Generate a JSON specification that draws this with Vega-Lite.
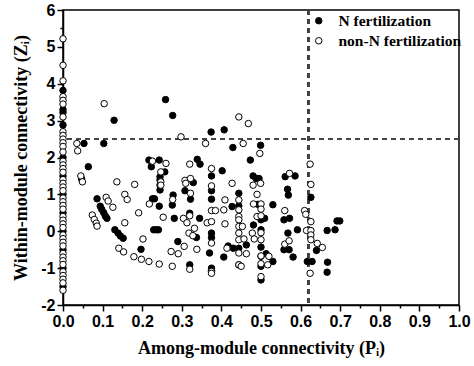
{
  "$schema": "https://vega.github.io/schema/vega-lite/v6.json",
  "width": 396,
  "height": 295,
  "autosize": "none",
  "padding": {"left": 63, "top": 10, "right": 15, "bottom": 61},
  "background": "white",
  "config": {
    "view": {"stroke": "black", "strokeWidth": 1.5},
    "axis": {
      "domainColor": "black", "domainWidth": 1.5, "tickColor": "black", "tickWidth": 1.5,
      "grid": false, "labelFont": "Liberation Sans", "labelFontWeight": "bold", "labelFontSize": 16,
      "labelColor": "black", "titleFont": "Liberation Serif", "titleFontWeight": "bold",
      "titleFontSize": 18, "titleColor": "black", "labelOverlap": false, "labelPadding": 2
    }
  },
  "data": {"values": [
    {"P":0,"Z":3.82,"g":"N fertilization"},{"P":0,"Z":3.3,"g":"N fertilization"},{"P":0,"Z":3.22,"g":"N fertilization"},{"P":0,"Z":2.88,"g":"N fertilization"},{"P":0,"Z":2.0,"g":"N fertilization"},{"P":0,"Z":1.5,"g":"N fertilization"},{"P":0,"Z":1.0,"g":"N fertilization"},{"P":0,"Z":0.5,"g":"N fertilization"},{"P":0,"Z":0.0,"g":"N fertilization"},{"P":0,"Z":-0.5,"g":"N fertilization"},{"P":0,"Z":-1.0,"g":"N fertilization"},{"P":0,"Z":-1.5,"g":"N fertilization"},
    {"P":0.053,"Z":2.38,"g":"N fertilization"},{"P":0.064,"Z":1.75,"g":"N fertilization"},{"P":0.047,"Z":1.42,"g":"N fertilization"},{"P":0.086,"Z":0.88,"g":"N fertilization"},{"P":0.103,"Z":2.38,"g":"N fertilization"},{"P":0.129,"Z":3.01,"g":"N fertilization"},
    {"P":0.094,"Z":0.68,"g":"N fertilization"},{"P":0.098,"Z":0.59,"g":"N fertilization"},{"P":0.103,"Z":0.5,"g":"N fertilization"},{"P":0.107,"Z":0.41,"g":"N fertilization"},{"P":0.111,"Z":0.35,"g":"N fertilization"},
    {"P":0.131,"Z":0.04,"g":"N fertilization"},{"P":0.139,"Z":-0.05,"g":"N fertilization"},{"P":0.145,"Z":-0.13,"g":"N fertilization"},{"P":0.152,"Z":-0.19,"g":"N fertilization"},
    {"P":0.197,"Z":-0.49,"g":"N fertilization"},{"P":0.217,"Z":1.93,"g":"N fertilization"},{"P":0.223,"Z":1.75,"g":"N fertilization"},{"P":0.226,"Z":0.88,"g":"N fertilization"},{"P":0.231,"Z":0.88,"g":"N fertilization"},
    {"P":0.229,"Z":0.04,"g":"N fertilization"},{"P":0.236,"Z":0.04,"g":"N fertilization"},{"P":0.241,"Z":0.04,"g":"N fertilization"},
    {"P":0.243,"Z":1.93,"g":"N fertilization"},{"P":0.245,"Z":1.48,"g":"N fertilization"},{"P":0.245,"Z":1.39,"g":"N fertilization"},{"P":0.245,"Z":1.25,"g":"N fertilization"},{"P":0.245,"Z":1.12,"g":"N fertilization"},{"P":0.243,"Z":0.68,"g":"N fertilization"},
    {"P":0.259,"Z":3.57,"g":"N fertilization"},{"P":0.257,"Z":1.61,"g":"N fertilization"},{"P":0.277,"Z":3.14,"g":"N fertilization"},{"P":0.278,"Z":0.98,"g":"N fertilization"},{"P":0.276,"Z":0.71,"g":"N fertilization"},{"P":0.281,"Z":0.35,"g":"N fertilization"},{"P":0.29,"Z":-0.28,"g":"N fertilization"},
    {"P":0.308,"Z":1.1,"g":"N fertilization"},{"P":0.32,"Z":-0.91,"g":"N fertilization"},{"P":0.322,"Z":0.87,"g":"N fertilization"},{"P":0.32,"Z":0.49,"g":"N fertilization"},{"P":0.329,"Z":1.32,"g":"N fertilization"},{"P":0.337,"Z":-0.17,"g":"N fertilization"},{"P":0.339,"Z":1.95,"g":"N fertilization"},{"P":0.346,"Z":1.82,"g":"N fertilization"},{"P":0.345,"Z":0.35,"g":"N fertilization"},
    {"P":0.37,"Z":-0.59,"g":"N fertilization"},{"P":0.374,"Z":2.69,"g":"N fertilization"},{"P":0.375,"Z":1.5,"g":"N fertilization"},{"P":0.375,"Z":1.1,"g":"N fertilization"},{"P":0.375,"Z":0.87,"g":"N fertilization"},{"P":0.375,"Z":-0.05,"g":"N fertilization"},{"P":0.375,"Z":-0.17,"g":"N fertilization"},{"P":0.375,"Z":-1.0,"g":"N fertilization"},{"P":0.375,"Z":-1.06,"g":"N fertilization"},
    {"P":0.407,"Z":2.75,"g":"N fertilization"},{"P":0.402,"Z":1.64,"g":"N fertilization"},{"P":0.406,"Z":-0.7,"g":"N fertilization"},{"P":0.417,"Z":-0.4,"g":"N fertilization"},{"P":0.427,"Z":0.67,"g":"N fertilization"},{"P":0.43,"Z":-0.46,"g":"N fertilization"},{"P":0.429,"Z":2.27,"g":"N fertilization"},
    {"P":0.444,"Z":1.03,"g":"N fertilization"},{"P":0.444,"Z":0.69,"g":"N fertilization"},{"P":0.444,"Z":-0.46,"g":"N fertilization"},{"P":0.444,"Z":-0.91,"g":"N fertilization"},
    {"P":0.463,"Z":-0.37,"g":"N fertilization"},{"P":0.473,"Z":1.93,"g":"N fertilization"},{"P":0.48,"Z":1.5,"g":"N fertilization"},{"P":0.488,"Z":1.43,"g":"N fertilization"},{"P":0.481,"Z":0.17,"g":"N fertilization"},{"P":0.492,"Z":0.73,"g":"N fertilization"},{"P":0.495,"Z":1.43,"g":"N fertilization"},{"P":0.499,"Z":2.33,"g":"N fertilization"},
    {"P":0.5,"Z":0.4,"g":"N fertilization"},{"P":0.5,"Z":0.31,"g":"N fertilization"},{"P":0.5,"Z":0.04,"g":"N fertilization"},{"P":0.5,"Z":-0.43,"g":"N fertilization"},{"P":0.5,"Z":-0.68,"g":"N fertilization"},{"P":0.5,"Z":-0.95,"g":"N fertilization"},{"P":0.5,"Z":-1.32,"g":"N fertilization"},
    {"P":0.509,"Z":0.35,"g":"N fertilization"},{"P":0.513,"Z":-0.61,"g":"N fertilization"},{"P":0.53,"Z":0.72,"g":"N fertilization"},{"P":0.53,"Z":-0.82,"g":"N fertilization"},
    {"P":0.558,"Z":-0.5,"g":"N fertilization"},{"P":0.561,"Z":1.48,"g":"N fertilization"},{"P":0.558,"Z":0.31,"g":"N fertilization"},{"P":0.567,"Z":1.14,"g":"N fertilization"},{"P":0.569,"Z":0.98,"g":"N fertilization"},{"P":0.568,"Z":-0.05,"g":"N fertilization"},{"P":0.572,"Z":0.35,"g":"N fertilization"},{"P":0.571,"Z":-0.5,"g":"N fertilization"},{"P":0.581,"Z":-0.7,"g":"N fertilization"},{"P":0.586,"Z":1.5,"g":"N fertilization"},{"P":0.592,"Z":0.04,"g":"N fertilization"},
    {"P":0.617,"Z":-0.82,"g":"N fertilization"},{"P":0.629,"Z":-0.82,"g":"N fertilization"},{"P":0.626,"Z":0.92,"g":"N fertilization"},{"P":0.64,"Z":-0.52,"g":"N fertilization"},{"P":0.667,"Z":0.02,"g":"N fertilization"},{"P":0.668,"Z":-0.84,"g":"N fertilization"},{"P":0.667,"Z":-1.11,"g":"N fertilization"},{"P":0.687,"Z":0.04,"g":"N fertilization"},{"P":0.692,"Z":0.28,"g":"N fertilization"},{"P":0.699,"Z":0.28,"g":"N fertilization"},

    {"P":0,"Z":5.22,"g":"non-N fertilization"},{"P":0,"Z":4.5,"g":"non-N fertilization"},{"P":0,"Z":4.08,"g":"non-N fertilization"},{"P":0,"Z":3.65,"g":"non-N fertilization"},{"P":0,"Z":3.55,"g":"non-N fertilization"},{"P":0,"Z":3.45,"g":"non-N fertilization"},{"P":0,"Z":3.1,"g":"non-N fertilization"},{"P":0,"Z":2.7,"g":"non-N fertilization"},{"P":0,"Z":2.6,"g":"non-N fertilization"},{"P":0,"Z":2.5,"g":"non-N fertilization"},{"P":0,"Z":2.4,"g":"non-N fertilization"},{"P":0,"Z":2.3,"g":"non-N fertilization"},{"P":0,"Z":2.15,"g":"non-N fertilization"},{"P":0,"Z":1.9,"g":"non-N fertilization"},{"P":0,"Z":1.8,"g":"non-N fertilization"},{"P":0,"Z":1.7,"g":"non-N fertilization"},{"P":0,"Z":1.6,"g":"non-N fertilization"},{"P":0,"Z":1.4,"g":"non-N fertilization"},{"P":0,"Z":1.3,"g":"non-N fertilization"},{"P":0,"Z":1.2,"g":"non-N fertilization"},{"P":0,"Z":1.1,"g":"non-N fertilization"},{"P":0,"Z":0.9,"g":"non-N fertilization"},{"P":0,"Z":0.8,"g":"non-N fertilization"},{"P":0,"Z":0.7,"g":"non-N fertilization"},{"P":0,"Z":0.6,"g":"non-N fertilization"},{"P":0,"Z":0.4,"g":"non-N fertilization"},{"P":0,"Z":0.3,"g":"non-N fertilization"},{"P":0,"Z":0.2,"g":"non-N fertilization"},{"P":0,"Z":0.1,"g":"non-N fertilization"},{"P":0,"Z":-0.1,"g":"non-N fertilization"},{"P":0,"Z":-0.2,"g":"non-N fertilization"},{"P":0,"Z":-0.3,"g":"non-N fertilization"},{"P":0,"Z":-0.4,"g":"non-N fertilization"},{"P":0,"Z":-0.6,"g":"non-N fertilization"},{"P":0,"Z":-0.7,"g":"non-N fertilization"},{"P":0,"Z":-0.8,"g":"non-N fertilization"},{"P":0,"Z":-0.9,"g":"non-N fertilization"},{"P":0,"Z":-1.1,"g":"non-N fertilization"},{"P":0,"Z":-1.2,"g":"non-N fertilization"},{"P":0,"Z":-1.3,"g":"non-N fertilization"},{"P":0,"Z":-1.4,"g":"non-N fertilization"},{"P":0,"Z":-1.6,"g":"non-N fertilization"},
    {"P":0.035,"Z":2.38,"g":"non-N fertilization"},{"P":0.037,"Z":2.18,"g":"non-N fertilization"},{"P":0.045,"Z":1.5,"g":"non-N fertilization"},{"P":0.049,"Z":1.34,"g":"non-N fertilization"},
    {"P":0.074,"Z":0.44,"g":"non-N fertilization"},{"P":0.079,"Z":0.32,"g":"non-N fertilization"},{"P":0.084,"Z":0.22,"g":"non-N fertilization"},{"P":0.086,"Z":0.14,"g":"non-N fertilization"},
    {"P":0.104,"Z":3.46,"g":"non-N fertilization"},{"P":0.109,"Z":0.92,"g":"non-N fertilization"},{"P":0.114,"Z":0.82,"g":"non-N fertilization"},{"P":0.126,"Z":0.65,"g":"non-N fertilization"},{"P":0.136,"Z":1.34,"g":"non-N fertilization"},{"P":0.141,"Z":-0.46,"g":"non-N fertilization"},{"P":0.153,"Z":-0.56,"g":"non-N fertilization"},{"P":0.156,"Z":1.0,"g":"non-N fertilization"},{"P":0.162,"Z":0.86,"g":"non-N fertilization"},{"P":0.156,"Z":0.23,"g":"non-N fertilization"},
    {"P":0.181,"Z":1.27,"g":"non-N fertilization"},{"P":0.179,"Z":-0.69,"g":"non-N fertilization"},{"P":0.191,"Z":0.5,"g":"non-N fertilization"},{"P":0.198,"Z":-0.76,"g":"non-N fertilization"},{"P":0.202,"Z":-0.21,"g":"non-N fertilization"},{"P":0.217,"Z":-0.82,"g":"non-N fertilization"},{"P":0.218,"Z":0.74,"g":"non-N fertilization"},{"P":0.226,"Z":1.9,"g":"non-N fertilization"},
    {"P":0.243,"Z":-0.89,"g":"non-N fertilization"},{"P":0.247,"Z":1.34,"g":"non-N fertilization"},{"P":0.247,"Z":1.25,"g":"non-N fertilization"},{"P":0.247,"Z":1.61,"g":"non-N fertilization"},{"P":0.253,"Z":0.38,"g":"non-N fertilization"},{"P":0.26,"Z":1.84,"g":"non-N fertilization"},{"P":0.273,"Z":-0.55,"g":"non-N fertilization"},{"P":0.276,"Z":-0.95,"g":"non-N fertilization"},{"P":0.277,"Z":0.86,"g":"non-N fertilization"},{"P":0.291,"Z":-0.61,"g":"non-N fertilization"},{"P":0.298,"Z":2.56,"g":"non-N fertilization"},
    {"P":0.304,"Z":0.35,"g":"non-N fertilization"},{"P":0.306,"Z":-0.41,"g":"non-N fertilization"},{"P":0.308,"Z":1.38,"g":"non-N fertilization"},{"P":0.31,"Z":1.3,"g":"non-N fertilization"},{"P":0.313,"Z":0.23,"g":"non-N fertilization"},{"P":0.32,"Z":1.82,"g":"non-N fertilization"},{"P":0.322,"Z":1.43,"g":"non-N fertilization"},{"P":0.322,"Z":1.03,"g":"non-N fertilization"},{"P":0.32,"Z":0.42,"g":"non-N fertilization"},{"P":0.318,"Z":-0.05,"g":"non-N fertilization"},{"P":0.32,"Z":-1.03,"g":"non-N fertilization"},{"P":0.328,"Z":-0.12,"g":"non-N fertilization"},{"P":0.332,"Z":0.08,"g":"non-N fertilization"},{"P":0.338,"Z":-0.49,"g":"non-N fertilization"},
    {"P":0.36,"Z":2.38,"g":"non-N fertilization"},{"P":0.364,"Z":0.23,"g":"non-N fertilization"},{"P":0.375,"Z":1.7,"g":"non-N fertilization"},{"P":0.375,"Z":1.23,"g":"non-N fertilization"},{"P":0.375,"Z":0.56,"g":"non-N fertilization"},{"P":0.375,"Z":0.26,"g":"non-N fertilization"},{"P":0.375,"Z":-0.32,"g":"non-N fertilization"},{"P":0.375,"Z":-1.09,"g":"non-N fertilization"},{"P":0.375,"Z":-1.14,"g":"non-N fertilization"},{"P":0.385,"Z":0.56,"g":"non-N fertilization"},
    {"P":0.409,"Z":0.85,"g":"non-N fertilization"},{"P":0.406,"Z":0.58,"g":"non-N fertilization"},{"P":0.409,"Z":0.2,"g":"non-N fertilization"},{"P":0.414,"Z":-0.46,"g":"non-N fertilization"},{"P":0.427,"Z":1.3,"g":"non-N fertilization"},{"P":0.444,"Z":3.1,"g":"non-N fertilization"},
    {"P":0.444,"Z":0.85,"g":"non-N fertilization"},{"P":0.444,"Z":0.58,"g":"non-N fertilization"},{"P":0.444,"Z":0.4,"g":"non-N fertilization"},{"P":0.444,"Z":0.31,"g":"non-N fertilization"},{"P":0.444,"Z":0.13,"g":"non-N fertilization"},{"P":0.444,"Z":-0.05,"g":"non-N fertilization"},{"P":0.444,"Z":-0.23,"g":"non-N fertilization"},{"P":0.444,"Z":-0.59,"g":"non-N fertilization"},{"P":0.444,"Z":-0.91,"g":"non-N fertilization"},
    {"P":0.45,"Z":-0.95,"g":"non-N fertilization"},{"P":0.453,"Z":0.13,"g":"non-N fertilization"},{"P":0.455,"Z":2.38,"g":"non-N fertilization"},{"P":0.457,"Z":-0.21,"g":"non-N fertilization"},{"P":0.463,"Z":-0.61,"g":"non-N fertilization"},{"P":0.468,"Z":2.92,"g":"non-N fertilization"},{"P":0.48,"Z":1.25,"g":"non-N fertilization"},{"P":0.481,"Z":0.74,"g":"non-N fertilization"},{"P":0.478,"Z":-0.05,"g":"non-N fertilization"},{"P":0.483,"Z":-0.21,"g":"non-N fertilization"},{"P":0.49,"Z":1.0,"g":"non-N fertilization"},{"P":0.49,"Z":0.4,"g":"non-N fertilization"},{"P":0.497,"Z":2.11,"g":"non-N fertilization"},{"P":0.499,"Z":1.3,"g":"non-N fertilization"},
    {"P":0.5,"Z":0.74,"g":"non-N fertilization"},{"P":0.5,"Z":0.6,"g":"non-N fertilization"},{"P":0.5,"Z":0.42,"g":"non-N fertilization"},{"P":0.5,"Z":-0.04,"g":"non-N fertilization"},{"P":0.5,"Z":-0.23,"g":"non-N fertilization"},{"P":0.5,"Z":-0.67,"g":"non-N fertilization"},{"P":0.5,"Z":-0.88,"g":"non-N fertilization"},{"P":0.5,"Z":-1.23,"g":"non-N fertilization"},
    {"P":0.517,"Z":-0.91,"g":"non-N fertilization"},{"P":0.52,"Z":-0.68,"g":"non-N fertilization"},{"P":0.56,"Z":0.56,"g":"non-N fertilization"},{"P":0.56,"Z":-0.35,"g":"non-N fertilization"},{"P":0.572,"Z":1.57,"g":"non-N fertilization"},{"P":0.571,"Z":-0.26,"g":"non-N fertilization"},
    {"P":0.61,"Z":0.56,"g":"non-N fertilization"},{"P":0.613,"Z":0.46,"g":"non-N fertilization"},{"P":0.624,"Z":1.82,"g":"non-N fertilization"},{"P":0.626,"Z":1.27,"g":"non-N fertilization"},{"P":0.615,"Z":0.02,"g":"non-N fertilization"},{"P":0.626,"Z":0.02,"g":"non-N fertilization"},{"P":0.626,"Z":0.26,"g":"non-N fertilization"},{"P":0.626,"Z":-0.1,"g":"non-N fertilization"},{"P":0.626,"Z":-0.23,"g":"non-N fertilization"},{"P":0.624,"Z":-1.14,"g":"non-N fertilization"},{"P":0.642,"Z":-0.33,"g":"non-N fertilization"},{"P":0.655,"Z":-0.44,"g":"non-N fertilization"}
  ]},
  "encoding": {
    "x": {"field": "P", "type": "quantitative", "scale": {"domain": [0, 1], "nice": false, "zero": false},
      "axis": {"title": "Among-module connectivity (Pᵢ)",
        "values": [0,0.05,0.1,0.15,0.2,0.25,0.3,0.35,0.4,0.45,0.5,0.55,0.6,0.65,0.7,0.75,0.8,0.85,0.9,0.95,1],
        "labelExpr": "round(datum.value*100) % 10 === 0 ? format(datum.value, '.1f') : ''",
        "tickSize": {"condition": {"test": "round(datum.value*100) % 10 === 0", "value": 6}, "value": 3},
        "labelFlush": false, "titlePadding": 10}},
    "y": {"field": "Z", "type": "quantitative", "scale": {"domain": [-2, 6], "nice": false, "zero": false},
      "axis": {"title": "Within-module connectivity (Zᵢ)",
        "values": [-2,-1.5,-1,-0.5,0,0.5,1,1.5,2,2.5,3,3.5,4,4.5,5,5.5,6],
        "labelExpr": "datum.value % 1 === 0 ? ('' + datum.value) : ''",
        "tickSize": {"condition": {"test": "datum.value % 1 === 0", "value": 6}, "value": 3},
        "labelFlush": false, "titlePadding": 10}}
  },
  "layer": [
    {"mark": {"type": "rule", "strokeDash": [5, 4], "color": "#444", "strokeWidth": 1.2},
      "encoding": {"y": {"datum": 2.5}, "x": null}},
    {"mark": {"type": "rule", "strokeDash": [5, 4], "color": "#444", "strokeWidth": 1.2},
      "encoding": {"x": {"datum": 0.62}, "y": null}},
    {"mark": {"type": "point", "filled": true, "stroke": "black", "strokeWidth": 1, "size": 42, "opacity": 1},
      "encoding": {
        "fill": {"field": "g", "type": "nominal",
          "scale": {"domain": ["N fertilization", "non-N fertilization"], "range": ["black", "white"]},
          "legend": {"title": null, "orient": "none", "legendX": 248, "legendY": 3,
            "labelFont": "Liberation Serif", "labelFontWeight": "bold", "labelFontSize": 15.5, "labelColor": "black",
            "symbolStrokeColor": "black", "symbolStrokeWidth": 1, "symbolSize": 42, "symbolType": "circle",
            "rowPadding": 3, "labelOffset": 12, "labelLimit": 300}}
      }}
  ]
}
